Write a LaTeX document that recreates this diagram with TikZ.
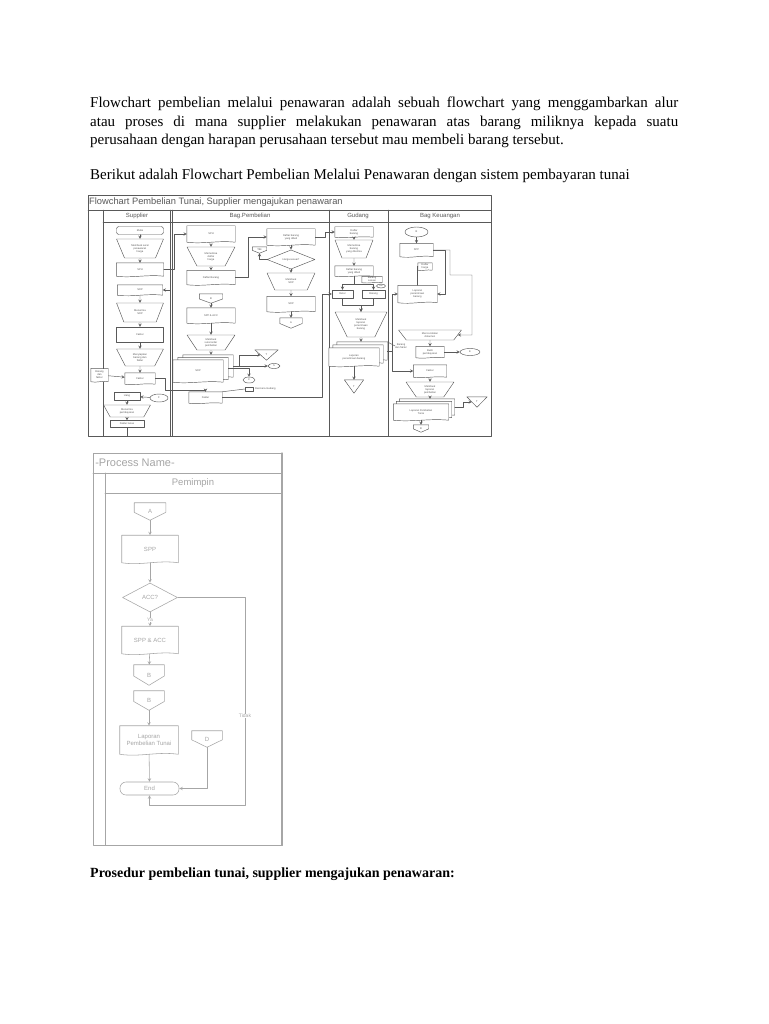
\documentclass[tikz,border=0pt]{standalone}
\usepackage{fontspec}
\setmainfont{Liberation Serif}
\setsansfont{Liberation Sans}
\usetikzlibrary{shapes.geometric,calc}

% document symbol: wavy lower edge round a node
\newcommand{\docwave}[2][2]{%
  \draw (#2.south east) -- (#2.north east) -- (#2.north west) -- (#2.south west)
    .. controls ($(#2.south west)!.35!(#2.south east)+(0pt,-#1pt)$)
    and ($(#2.south west)!.65!(#2.south east)+(0pt,#1pt)$) .. (#2.south east);}
% off-page connector
\newcommand{\offpg}[1]{%
  \draw (#1.north west) -- (#1.north east) -- ($(#1.north east)!.55!(#1.south east)$)
    -- (#1.south) -- ($(#1.north west)!.55!(#1.south west)$) -- cycle;}
% offline file
\newcommand{\offln}[1]{%
  \draw (#1.north west) -- (#1.north east) -- (#1.south) -- cycle;}

\begin{document}
\begin{tikzpicture}[x=1pt,y=-1pt,>=stealth,line join=round,line cap=round,
  sz/.style 2 args={minimum width=#1,minimum height=#2},
  lbl/.style={inner sep=0pt,align=center,font=\sffamily\fontsize{2.6}{3}\selectfont},
  doc/.style={lbl,rectangle,fill=white},
  term/.style={lbl,draw,rounded corners=2.5pt},
  rect/.style={lbl,draw},
  manop/.style={lbl,draw,trapezium,trapezium stretches=true,shape border rotate=180,trapezium angle=62},
  dec/.style={lbl,draw,diamond},
  conn/.style={lbl,draw,ellipse},
  pent/.style={lbl},
  tri/.style={lbl},
  para/.style={inner sep=0pt,font=\fontsize{15}{18.5}\selectfont}]
\fill[white] (0,0) rectangle (768,1024);
\useasboundingbox (0,0) rectangle (768,1024);

% page text
\node[para,text width=588pt,align=justify,anchor=north west] (intro) at (90,97)
  {Flowchart pembelian melalui penawaran adalah sebuah flowchart yang menggambarkan alur\linebreak
   atau proses di mana supplier melakukan penawaran atas barang miliknya kepada suatu\linebreak
   perusahaan dengan harapan perusahaan tersebut mau membeli barang tersebut.};
\node[para,anchor=base west] (lead) at (90,180)
  {Berikut adalah Flowchart Pembelian Melalui Penawaran dengan sistem pembayaran tunai};
\node[para,anchor=base west,font=\fontsize{14}{18.5}\selectfont\bfseries] (proc) at (90,877)
  {Prosedur pembelian tunai, supplier mengajukan penawaran:};

% ---- first flowchart
\begin{scope}[color=black!65,line width=.45pt]
\draw (88,195) rectangle (491,436);
\draw (88,210) -- (491,210) (103,222) -- (491,222);
\foreach \x in {103,170.5,172.5,329,388} \draw (\x,210) -- (\x,436);
\node[lbl,font=\sffamily\fontsize{9.3}{10}\selectfont,anchor=west] (ttl) at (89,202.5)
  {Flowchart Pembelian Tunai, Supplier mengajukan penawaran};
\foreach \n/\x/\t in {hs/137/Supplier,hp/250/Bag.Pembelian,hg/358/Gudang,hk/440/Bag Keuangan}
  \node[lbl,font=\sffamily\fontsize{6}{7}\selectfont] (\n) at (\x,216) {\t};

% supplier
\node[term,sz={47}{8}] (s1) at (140,230.5) {Mulai};
\node[manop,sz={47}{19}] (s2) at (140,248.5) {Membuat surat\\penawaran\\harga};
\node[doc,sz={47}{13}] (s3) at (140,269.5) {SPH}; \docwave{s3}
\node[doc,sz={45}{10}] (s4) at (140,290) {SOP}; \docwave{s4}
\node[manop,sz={47}{19}] (s5) at (140,312.5) {Menerima\\SOP};
\node[rect,sz={47}{15}] (s6) at (140,334.5) {Faktur};
\node[manop,sz={47}{17}] (s7) at (140,357.5) {Menyiapkan\\barang dan\\faktur};
\node[doc,sz={30}{11}] (s8) at (140,378.5) {Faktur}; \docwave[1.5]{s8}
\node[doc,sz={17}{13}] (s9) at (99.5,375) {Barang\\dan\\faktur}; \docwave[1.5]{s9}
\node[rect,sz={26}{8}] (s10) at (127,396) {Uang};
\node[conn,sz={18}{8}] (s11) at (159,398) {F};
\node[manop,sz={47}{12}] (s12) at (127,411) {Menerima\\pembayaran};
\node[rect,sz={34}{7}] (s13) at (127,424) {Faktur lunas};
\coordinate (s14) at (127,436);
\coordinate (c4) at (170.5,290);
\foreach \a/\b in {s1/s2,s2/s3,s4/s5,s5/s6,s6/s7,s7/s8,s10/s12,s12/s13}
  \draw[->] (\a) -- (\b);
\draw[->] (s11) -- (s10);
\draw (s13) -- (s14);
\draw[->] (s9) -- (s8);
\draw[->] (c4) -- (s4);

% bag. pembelian
\node[doc,sz={48}{16}] (p1) at (211,234) {SPH}; \docwave{p1}
\node[manop,sz={48}{19}] (p2) at (211,256.5) {Memeriksa\\daftar\\harga};
\node[doc,sz={48}{14}] (p3) at (211,277.5) {Daftar Barang}; \docwave{p3}
\node[pent,sz={23}{9}] (p4) at (211,298.5) {B}; \offpg{p4}
\node[doc,sz={48}{15}] (p5) at (211,315.5) {SPP \& ACC}; \docwave{p5}
\node[manop,sz={48}{15}] (p6) at (211,342.5) {Membuat\\surat order\\pembelian};
\node[doc,sz={50}{22}] (p7b) at (208,366) {}; \docwave{p7b}
\node[doc,sz={50}{22}] (p7a) at (203,368.5) {}; \docwave{p7a}
\node[doc,sz={50}{22}] (p7) at (198,371) {SOP}; \docwave{p7}
\node[tri,sz={23}{10}] (p8) at (266.5,355) {T}; \offln{p8}
\node[conn,sz={12}{5}] (p9) at (274,366) {S};
\node[conn,sz={12}{6}] (p10) at (249,380) {C};
\node[rect,sz={8}{4}] (p11) at (249,389) {};
\node[lbl,anchor=west] (p11t) at (255,389) {Rencana Gudang};
\node[doc,sz={33}{11}] (p12) at (205.5,397.5) {Faktur}; \docwave[1.5]{p12}
\node[doc,sz={48}{16}] (p13) at (291,237) {Daftar barang\\yang dibeli}; \docwave{p13}
\node[dec,sz={48}{15}] (p14) at (291,259.5) {Harga sesuai?};
\node[pent,sz={14}{6}] (p15) at (259.5,250) {Tdk}; \offpg{p15}
\node[manop,sz={48}{17}] (p16) at (291,281.5) {Membuat\\SOP};
\node[doc,sz={48}{15}] (p17) at (291,304) {SOP}; \docwave{p17}
\node[pent,sz={22}{10}] (p18) at (291,323) {A}; \offpg{p18}
\foreach \a/\b in {p1/p2,p2/p3,p4/p5,p5/p6,p13/p14,p14/p16,p16/p17,p17/p18}
  \draw[->] (\a) -- (\b);
\draw[->] (p6) -- (p6 |- p7b.north);
\draw[->] (s3.east) -- ++(10.5,0) |- (p1.west);
\draw[->] (s8.east) -| (165,390) -| (p12.north);
\draw[->] (p3.east) -- ++(13,0) |- (p13.west);
\draw[->] (p14.west) -| (p15.south);
\draw[->] (p7b.east) -- (p9);
\draw[->] ([xshift=6pt]p7b.east) |- ($(p8.north west)!.5!(p8.south)$);
\draw[->] (p7a.east) -| (p10);
\draw (p11.west) -- (p12.north east);

% gudang
\node[doc,sz={38}{10}] (g1) at (354,232) {Daftar\\barang}; \docwave[1.5]{g1}
\node[manop,sz={38}{18}] (g2) at (354,249) {Memeriksa\\barang\\yang diterima};
\node[doc,sz={38}{10}] (g3) at (354,271) {Daftar barang\\yang dibeli}; \docwave[1.5]{g3}
\node[doc,sz={20}{6}] (g4) at (372,279.5) {Barang\\sesuai}; \docwave[1]{g4}
\node[conn,sz={9}{4}] (g7) at (381,286) {Ok};
\node[rect,sz={21}{8}] (g5) at (342.5,294) {Retur};
\node[rect,sz={23}{8}] (g6) at (373.5,294) {Barang};
\node[manop,sz={52}{25}] (g8) at (361,324.5) {Membuat\\laporan\\penerimaan\\barang};
\node[doc,sz={50}{18}] (g9b) at (362,351) {}; \docwave{g9b}
\node[doc,sz={50}{18}] (g9a) at (358,354) {}; \docwave{g9a}
\node[doc,sz={50}{18}] (g9) at (354,357) {Laporan\\penerimaan barang}; \docwave{g9}
\node[tri,sz={19}{13}] (g10) at (354,386.5) {T}; \offln{g10}
\node[lbl,fill=white] (gA) at (401,346) {Barang\\dan faktur};
\draw[->] (p13.east) -- ++(10,0) |- (g1.west);
\draw[->] (p12.east) -| (322,294) -- (g5.west);
\draw[->] (g1) -- (g2);
\draw[->] (g2) -- (g3);
\draw[->] (g3.south) -- ++(0,8) -| (g5.north);
\draw[->] (g3.south) -- ++(0,8) -| (g6.north);
\draw[->] (g5.south) -- ++(0,7) -| (g8.north);
\draw[->] (g6.south) -- ++(0,7) -| (g8.north);
\draw[->] (g8) -- (g8 |- g9b.north);
\draw[->] (g9.south) -- (g10.north);
\draw (g9b.north east) -- (gA.west);

% bag keuangan
\node[conn,sz={23}{10}] (k1) at (416.5,232) {B};
\node[doc,sz={33}{13}] (k2) at (416.5,250) {SPP}; \docwave{k2}
\node[doc,sz={14}{7}] (k3) at (425,266.5) {Daftar\\harga}; \docwave[1]{k3}
\node[doc,sz={39}{17}] (k4) at (417.5,294) {Laporan\\penerimaan\\barang}; \docwave{k4}
\node[manop,sz={63}{10}] (k5) at (430,335) {Mencocokkan\\dokumen};
\node[doc,sz={28}{11}] (k6) at (430,352) {Bukti\\pembayaran}; \docwave[1.5]{k6}
\node[conn,sz={20}{7}] (k7) at (470,352) {E};
\node[doc,sz={33}{12}] (k8) at (430,371) {Faktur}; \docwave[1.5]{k8}
\node[manop,sz={48}{15}] (k9) at (430,389.5) {Membuat\\laporan\\pembelian};
\node[doc,sz={55}{16}] (k10b) at (427,407) {}; \docwave{k10b}
\node[doc,sz={55}{16}] (k10a) at (424,409.5) {}; \docwave{k10a}
\node[doc,sz={55}{16}] (k10) at (421,412) {Laporan Pembelian\\Tunai}; \docwave{k10}
\node[tri,sz={20}{10}] (k11) at (477,402) {T}; \offln{k11}
\node[pent,sz={15}{7}] (k12) at (421,428.5) {B}; \offpg{k12}
\draw[->] (g9b.east) -| (392,294) -- (k4.west);
\draw[->] (g9b.east) -| (392,371) -- (k8.west);
\draw[->] (k1) -- (k2);
\draw[->] (k2.east) -| (445,294) -- (k4.east);
\draw[->] (k2.east) -| (450,275) -| (472,335) -- (k5.east);
\draw (k3.west) -| (k4.north);
\draw[->] (k5) -- (k6);
\draw[->] (k6) -- (k7);
\draw[->] (k8) -- (k9);
\draw[->] (k9) -- (k9 |- k10b.north);
\draw[->] (k10b.east) -- ++(8,0) |- ($(k11.north west)!.5!(k11.south)$);
\draw[->] (k10) -- (k12);
\end{scope}

% ---- second flowchart
\begin{scope}[color=gray!70,line width=.55pt,
  lbl/.append style={font=\sffamily\fontsize{6}{7}\selectfont}]
\draw (93,453) rectangle (282,845);
\draw (93,473) -- (282,473) (105,493) -- (282,493);
\draw (105,473) -- (105,845);
\draw[line width=1.3pt] (282,453) -- (282,845);
\node[lbl,font=\sffamily\fontsize{11}{12}\selectfont,anchor=west] (pname) at (95,463) {-Process Name-};
\node[lbl,font=\sffamily\fontsize{9.5}{11}\selectfont] (pemim) at (193,483) {Pemimpin};

\node[pent,sz={31}{17}] (b1) at (150,511.5) {A}; \offpg{b1}
\node[doc,sz={56}{27}] (b2) at (150,549) {SPP}; \docwave[3]{b2}
\node[dec,sz={55}{29}] (b3) at (150,597.5) {ACC?};
\node[doc,sz={56}{27}] (b4) at (150,640) {SPP \& ACC}; \docwave[3]{b4}
\node[pent,sz={30}{20}] (b5) at (149,675) {B}; \offpg{b5}
\node[pent,sz={30}{19}] (b6) at (149,700.5) {B}; \offpg{b6}
\node[doc,sz={58}{28}] (b7) at (149,740) {Laporan\\Pembelian Tunai}; \docwave[3]{b7}
\node[pent,sz={30}{16}] (b8) at (207,739) {D}; \offpg{b8}
\node[term,sz={59}{13},rounded corners=6pt] (b9) at (149.5,788.5) {End};
\coordinate (tc) at (245,805);
\foreach \a/\b in {b1/b2,b2/b3,b3/b4,b4/b5,b6/b7,b7/b9}
  \draw[->] (\a) -- (\b);
\draw[->] (b8.south) |- (b9.east);
\draw[->] (b3.east) -| (tc) -| (b9.south);
\node[lbl,fill=white,font=\sffamily\fontsize{5}{6}\selectfont] (ya) at (150,620) {Ya};
\node[lbl,fill=white,font=\sffamily\fontsize{5}{6}\selectfont] (tdk) at (245,716) {Tidak};
\end{scope}
\end{tikzpicture}
\end{document}
